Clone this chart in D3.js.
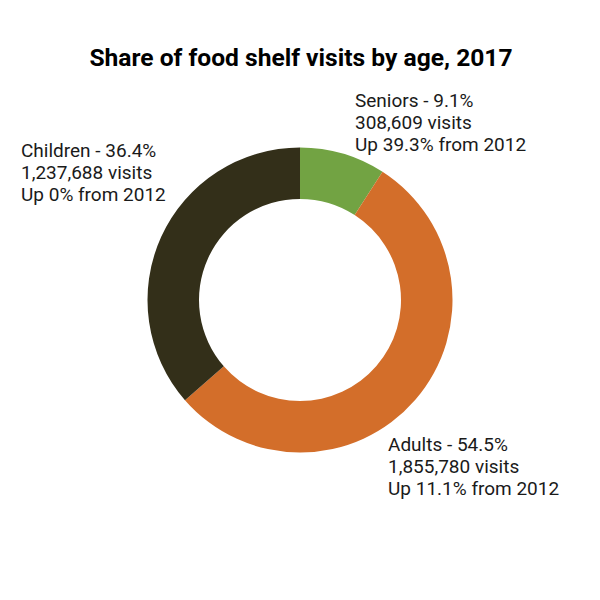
<!DOCTYPE html>
<html><head><meta charset="utf-8">
<script src="https://cdn.jsdelivr.net/npm/d3@7"></script>
<style>body{margin:0;background:#fff;}text{font-family:Roboto,sans-serif;}</style>
</head><body>
<svg id="c" width="600" height="600"></svg>
<script>
const categories = ["Seniors", "Adults", "Children"];
const shares = [9.1, 54.5, 36.4];
const visits = ["308,609", "1,855,780", "1,237,688"];
const changes = ["39.3%", "11.1%", "0%"];
const colors = ["#72a343", "#d36e2a", "#332f19"];
const labelPos = [[355,107],[388,451],[21,157]];

const svg = d3.select("#c");
svg.append("text").attr("x",301).attr("y",66).attr("text-anchor","middle")
  .style("font-weight","bold").style("font-size","24.6px").attr("fill","#000")
  .text("Share of food shelf visits by age, 2017");

const data = categories.map((c,i)=>({cat:c, v:shares[i], visits:visits[i], ch:changes[i], col:colors[i], pos:labelPos[i]}));
const pie = d3.pie().value(d=>d.v).sort(null);
const arc = d3.arc().innerRadius(101).outerRadius(152.5);
const g = svg.append("g").attr("transform","translate(300,300)");
g.selectAll("path").data(pie(data)).enter().append("path")
  .attr("d",arc).attr("fill",d=>d.data.col);

const lab = svg.selectAll("text.lab").data(data).enter().append("text").attr("class","lab")
  .attr("x",d=>d.pos[0]).attr("y",d=>d.pos[1]).style("font-size","19px").attr("fill","#1a1a1a");
lab.each(function(d){
  const t=d3.select(this);
  const lines=[d.cat+" - "+d.v+"%", d.visits+" visits", "Up "+d.ch+" from 2012"];
  lines.forEach((l,i)=>t.append("tspan").attr("x",d.pos[0]).attr("dy",i?21.8:0).text(l));
});
</script>
</body></html>
